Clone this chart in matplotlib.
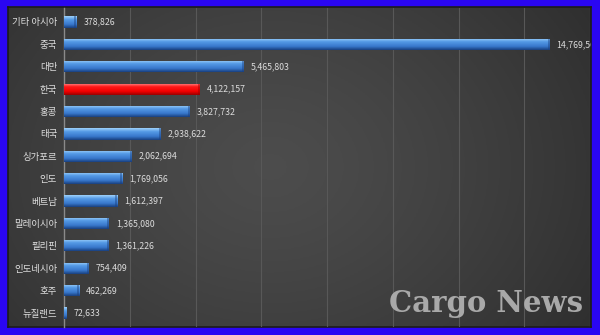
import numpy as np
import matplotlib
matplotlib.use("Agg")
import matplotlib.pyplot as plt

plt.rcParams['font.family'] = ['Noto Sans CJK KR', 'DejaVu Sans']

countries = ['기타 아시아', '중국', '대만', '한국', '홍콩', '태국', '싱가포르',
             '인도', '베트남', '말레이시아', '필리핀', '인도네시아', '호주', '뉴질랜드']
values = [378826, 14769560, 5465803, 4122157, 3827732, 2938622, 2062694,
          1769056, 1612397, 1365080, 1361226, 754409, 462269, 72633]
highlight = '한국'

W, H = 600, 335
fig = plt.figure(figsize=(W / 100, H / 100), dpi=100)
fig.patch.set_facecolor('#2a06f2')

# dark panel with soft light spot
bg = fig.add_axes([8 / W, 1 - 327 / H, 583 / W, 320 / H])
gx = np.linspace(0, 1, 300)
gy = np.linspace(0, 1, 160)
X, Y = np.meshgrid(gx, gy)
d = np.sqrt(((X - 0.45) / 0.75) ** 2 + ((Y - 0.5) / 1.1) ** 2)
shade = 0.30 - 0.14 * np.clip(d, 0, 1) ** 1.3
bg.imshow(np.dstack([shade] * 3), extent=[0, 1, 0, 1], aspect='auto')
bg.set_xlim(0, 1)
bg.set_ylim(0, 1)
bg.set_xticks([])
bg.set_yticks([])
for s in bg.spines.values():
    s.set_color('#1c1c1c')
    s.set_linewidth(1.2)

ax = fig.add_axes([64 / W, 1 - 327 / H, 526 / W, 319 / H])
ax.patch.set_alpha(0)
n = len(countries)
ypos = np.arange(n)
ax.set_xlim(0, 16000000)
ax.set_ylim(n - 1 + 0.625, -0.625)

for gxv in range(2000000, 16000001, 2000000):
    ax.axvline(gxv, color='#585858', lw=0.8, zorder=0)

bh = 0.5
bars = ax.barh(ypos, values, height=bh, color='#3b7dcc', edgecolor='none', zorder=2)
for bar, name, v in zip(bars, countries, values):
    if name == highlight:
        cols = np.array([[1.0, 0.55, 0.55], [1.0, 0.1, 0.1], [0.95, 0.0, 0.0], [0.6, 0.0, 0.0]])
    else:
        cols = np.array([[0.62, 0.82, 0.98], [0.33, 0.6, 0.9], [0.22, 0.47, 0.8], [0.1, 0.25, 0.5]])
    t = np.linspace(0, 1, 40)
    stops = np.array([0.0, 0.3, 0.7, 1.0])
    grad = np.stack([np.interp(t, stops, cols[:, k]) for k in range(3)], axis=1)
    y0 = bar.get_y()
    img = ax.imshow(grad[:, None, :], extent=[0, v, y0 + bh, y0], aspect='auto',
                    zorder=3, interpolation='bilinear')
    img.set_clip_path(bar)
    # darker end cap
    capw = min(60000, v * 0.3)
    ax.barh(y0 + bh / 2, capw, left=v - capw, height=bh,
            color=cols[3], alpha=0.45, edgecolor='none', zorder=4)
    lbl = ax.text(v + 210000, y0 + bh / 2, f'{v:,}', va='center', ha='left',
                  fontsize=6.3, color='#dcdcdc', zorder=5, clip_on=True)
    lbl.set_clip_box(bg.bbox)

ax.set_yticks(ypos)
ax.set_yticklabels(countries, fontsize=6.8, color='#dedede')
ax.tick_params(axis='y', length=0, pad=5)
ax.set_xticks([])
for s in ['top', 'right', 'bottom']:
    ax.spines[s].set_visible(False)
ax.spines['left'].set_color('#8a8a8a')
ax.spines['left'].set_linewidth(1)

fig.text(583 / W, 1 - 312 / H, 'Cargo News', ha='right', va='baseline',
         fontsize=21, fontweight='bold', family='DejaVu Serif', color='#a9a9a9')

fig.savefig('out.png', dpi=100, facecolor=fig.get_facecolor())
